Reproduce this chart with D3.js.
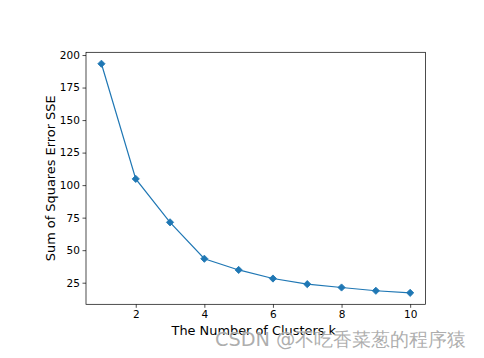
<!DOCTYPE html>
<html><head><meta charset="utf-8">
<script src="https://cdn.jsdelivr.net/npm/d3@7"></script>
<style>body{margin:0;background:#fff}svg{display:block}text{font-family:"DejaVu Sans",sans-serif}</style>
</head><body>
<script>
const clusters = [1,2,3,4,5,6,7,8,9,10];
const sse = [193.3,104.8,71.4,43.4,34.8,28.2,23.9,21.3,18.8,17.2];
const xTicks = [2,4,6,8,10];
const yTicks = [25,50,75,100,125,150,175,200];

const W=484,H=358;
const L=86,R=425.6,T=52.3,B=304.3;
const svg=d3.select("body").append("svg").attr("width",W).attr("height",H);
const ymin=d3.min(sse), ymax=d3.max(sse), yr=ymax-ymin;
const x=d3.scaleLinear().domain([0.55,10.45]).range([L,R]);
const y=d3.scaleLinear().domain([ymin-0.05*yr,ymax+0.05*yr]).range([B,T]);

const xa=svg.append("g").attr("transform",`translate(0,${B})`)
  .call(d3.axisBottom(x).tickValues(xTicks).tickSize(3.5).tickPadding(2.6).tickFormat(d3.format("d")));
const ya=svg.append("g").attr("transform",`translate(${L},0)`)
  .call(d3.axisLeft(y).tickValues(yTicks).tickSize(3.5).tickPadding(2.6).tickFormat(d3.format("d")));
[xa,ya].forEach(a=>{a.select(".domain").remove();a.selectAll("line").attr("stroke","#000").attr("stroke-width",0.7);
  a.selectAll("text").attr("font-size","10.5px").attr("fill","#000").attr("font-family","DejaVu Sans");});
svg.append("rect").attr("x",L).attr("y",T).attr("width",R-L).attr("height",B-T)
  .attr("fill","none").attr("stroke","#000").attr("stroke-width",0.7);

const line=d3.line().x((d,i)=>x(clusters[i])).y(d=>y(d));
svg.append("path").datum(sse).attr("d",line).attr("fill","none").attr("stroke","#1f77b4").attr("stroke-width",1.2);
svg.selectAll(".m").data(sse).enter().append("path")
  .attr("d",d3.symbol().type(d3.symbolSquare).size(26))
  .attr("transform",(d,i)=>`translate(${x(clusters[i])},${y(d)}) rotate(45)`)
  .attr("fill","#1f77b4").attr("stroke","#1f77b4").attr("stroke-width",0.8);

svg.append("text").attr("x",(L+R)/2-2).attr("y",335).attr("text-anchor","middle")
  .attr("font-size","12.9px").attr("fill","#000").text("The Number of Clusters k");
svg.append("text").attr("transform",`translate(55,${(T+B)/2}) rotate(-90)`).attr("text-anchor","middle")
  .attr("font-size","12.9px").attr("fill","#000").text("Sum of Squares Error SSE");

svg.append("text").attr("x",215).attr("y",346).attr("font-size","19.3px")
  .attr("font-family","'Noto Sans CJK SC',sans-serif").attr("fill","#a0a0a0").attr("fill-opacity",0.85)
  .attr("stroke","#fff").attr("stroke-width",0.4).attr("paint-order","stroke")
  .text("CSDN @不吃香菜葱的程序猿");
</script>
</body></html>
